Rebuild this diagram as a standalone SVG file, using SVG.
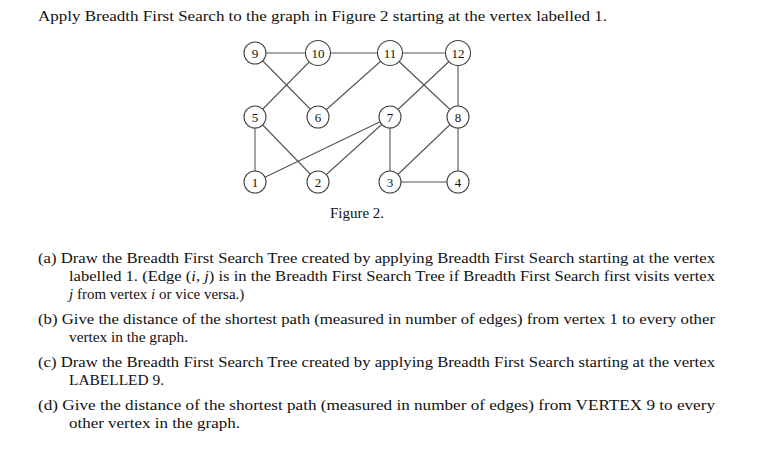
<svg xmlns="http://www.w3.org/2000/svg" width="779" height="457" viewBox="0 0 779 457">
<style>
text{font-family:"Liberation Serif","DejaVu Serif",serif;font-size:15px;fill:#111}
.n circle{fill:#fff;stroke:#444;stroke-width:1.1}
.n text{font-size:13px;text-anchor:middle}
#edges line{stroke:#555;stroke-width:1.1}
</style>
<rect width="779" height="457" fill="#fff"/>
<text x="38" y="21" textLength="569" lengthAdjust="spacingAndGlyphs">Apply Breadth First Search to the graph in Figure 2 starting at the vertex labelled 1.</text>
<g id="edges">
<line x1="255" y1="53" x2="318" y2="53"/><line x1="318" y1="53" x2="390" y2="53"/><line x1="390" y1="53" x2="458" y2="53"/>
<line x1="255" y1="53" x2="318" y2="117"/><line x1="318" y1="53" x2="255" y2="117"/><line x1="390" y1="53" x2="318" y2="117"/>
<line x1="390" y1="53" x2="458" y2="117"/><line x1="458" y1="53" x2="390" y2="117"/><line x1="458" y1="53" x2="458" y2="117"/>
<line x1="255" y1="117" x2="255" y2="182"/><line x1="255" y1="117" x2="318" y2="182"/><line x1="390" y1="117" x2="255" y2="182"/>
<line x1="390" y1="117" x2="318" y2="182"/><line x1="390" y1="117" x2="390" y2="182"/><line x1="458" y1="117" x2="390" y2="182"/>
<line x1="458" y1="117" x2="458" y2="182"/><line x1="390" y1="182" x2="458" y2="182"/>
</g>
<g id="n9" class="n"><circle cx="255" cy="53" r="11"/><text x="255" y="57.5">9</text></g>
<g id="n10" class="n"><circle cx="318" cy="53" r="12.5"/><text x="318" y="57.5">10</text></g>
<g id="n11" class="n"><circle cx="390" cy="53" r="12.5"/><text x="390" y="57.5">11</text></g>
<g id="n12" class="n"><circle cx="458" cy="53" r="12.5"/><text x="458" y="57.5">12</text></g>
<g id="n5" class="n"><circle cx="255" cy="117" r="11"/><text x="255" y="121.5">5</text></g>
<g id="n6" class="n"><circle cx="318" cy="117" r="11"/><text x="318" y="121.5">6</text></g>
<g id="n7" class="n"><circle cx="390" cy="117" r="11"/><text x="390" y="121.5">7</text></g>
<g id="n8" class="n"><circle cx="458" cy="117" r="11"/><text x="458" y="121.5">8</text></g>
<g id="n1" class="n"><circle cx="255" cy="182" r="11"/><text x="255" y="186.5">1</text></g>
<g id="n2" class="n"><circle cx="318" cy="182" r="11"/><text x="318" y="186.5">2</text></g>
<g id="n3" class="n"><circle cx="390" cy="182" r="11"/><text x="390" y="186.5">3</text></g>
<g id="n4" class="n"><circle cx="458" cy="182" r="11"/><text x="458" y="186.5">4</text></g>
<text x="357" y="218" text-anchor="middle">Figure 2.</text>
<text x="38" y="263" textLength="677" lengthAdjust="spacingAndGlyphs">(a) Draw the Breadth First Search Tree created by applying Breadth First Search starting at the vertex</text>
<text x="69" y="281" textLength="646" lengthAdjust="spacingAndGlyphs">labelled 1. (Edge (<tspan font-style="italic">i, j</tspan>) is in the Breadth First Search Tree if Breadth First Search first visits vertex</text>
<text x="69" y="299"><tspan font-style="italic">j</tspan> from vertex <tspan font-style="italic">i</tspan> or vice versa.)</text>
<text x="38" y="324" textLength="677" lengthAdjust="spacingAndGlyphs">(b) Give the distance of the shortest path (measured in number of edges) from vertex 1 to every other</text>
<text x="69" y="342" textLength="119" lengthAdjust="spacingAndGlyphs">vertex in the graph.</text>
<text x="38" y="367" textLength="677" lengthAdjust="spacingAndGlyphs">(c) Draw the Breadth First Search Tree created by applying Breadth First Search starting at the vertex</text>
<text x="69" y="385" textLength="95" lengthAdjust="spacingAndGlyphs">LABELLED 9.</text>
<text x="38" y="410" textLength="677" lengthAdjust="spacingAndGlyphs">(d) Give the distance of the shortest path (measured in number of edges) from VERTEX 9 to every</text>
<text x="69" y="428" textLength="171" lengthAdjust="spacingAndGlyphs">other vertex in the graph.</text>
</svg>
